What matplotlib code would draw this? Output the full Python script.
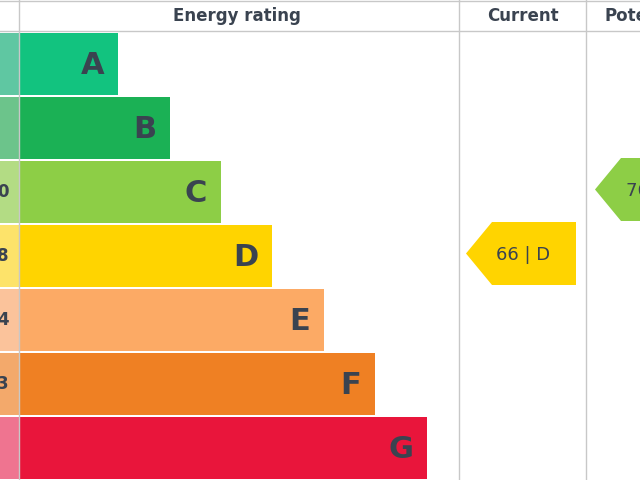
import matplotlib
matplotlib.use("Agg")
import matplotlib.pyplot as plt
from matplotlib.patches import Rectangle, Polygon

bands = ["A", "B", "C", "D", "E", "F", "G"]
band_colors = ["#12c37f", "#1bb155", "#8dce46", "#ffd400", "#fcaa65", "#ef8023", "#e9153b"]
side_colors = ["#5fc7a2", "#6cc48b", "#b3dc84", "#fde36a", "#fbc39b", "#f3a96b", "#ef7490"]
side_labels = ["", "", "0", "8", "4", "3", ""]
bar_right = [118, 170, 221, 272, 324, 375, 427]   # right end of each band (px)
current_value, current_band = 66, "D"
potential_value, potential_band = 76, "C"

text_col = "#3a4350"
fig = plt.figure(figsize=(6.4, 4.8), dpi=100)
ax = fig.add_axes([0, 0, 1, 1])
ax.set_xlim(0, 640)
ax.set_ylim(480, 0)
ax.axis("off")

top, row_h, gap = 33, 62, 2
for i, b in enumerate(bands):
    y0 = top + i * (row_h + gap)
    ax.add_patch(Rectangle((0, y0), 19, row_h, color=side_colors[i], lw=0))
    ax.text(9, y0 + row_h / 2, side_labels[i], ha="right", va="center",
            fontsize=12, fontweight="bold", color=text_col)
    ax.add_patch(Rectangle((20, y0), bar_right[i] - 20, row_h, color=band_colors[i], lw=0))
    ax.text(bar_right[i] - 14, y0 + row_h / 2 + 1, b, ha="right", va="center",
            fontsize=22, fontweight="bold", color=text_col)

# grid lines
for x in (19, 459, 586):
    ax.plot([x, x], [0, 480], color="#c8c8c8", lw=1)
ax.plot([0, 640], [31, 31], color="#c8c8c8", lw=1)
ax.plot([0, 640], [1, 1], color="#c8c8c8", lw=1)

ax.text(237, 16, "Energy rating", ha="center", va="center", fontsize=12,
        fontweight="bold", color=text_col)
ax.text(523, 16, "Current", ha="center", va="center", fontsize=12,
        fontweight="bold", color=text_col)
ax.text(604, 16, "Potential", ha="left", va="center", fontsize=12,
        fontweight="bold", color=text_col, clip_on=True)


def arrow(x0, x1, band, value):
    i = bands.index(band)
    y0 = top + i * (row_h + gap) - 3
    y1 = y0 + row_h + 1
    ym = (y0 + y1) / 2
    ax.add_patch(Polygon([(x0, ym), (x0 + 26, y0), (x1, y0), (x1, y1), (x0 + 26, y1)],
                         closed=True, color=band_colors[i], lw=0))
    ax.text(x0 + 57, ym + 1, f"{value} | {band}", ha="center", va="center",
            fontsize=13, color=text_col, clip_on=True)


arrow(466, 576, current_band, current_value)
arrow(595, 705, potential_band, potential_value)

fig.savefig("out.png", dpi=100)
